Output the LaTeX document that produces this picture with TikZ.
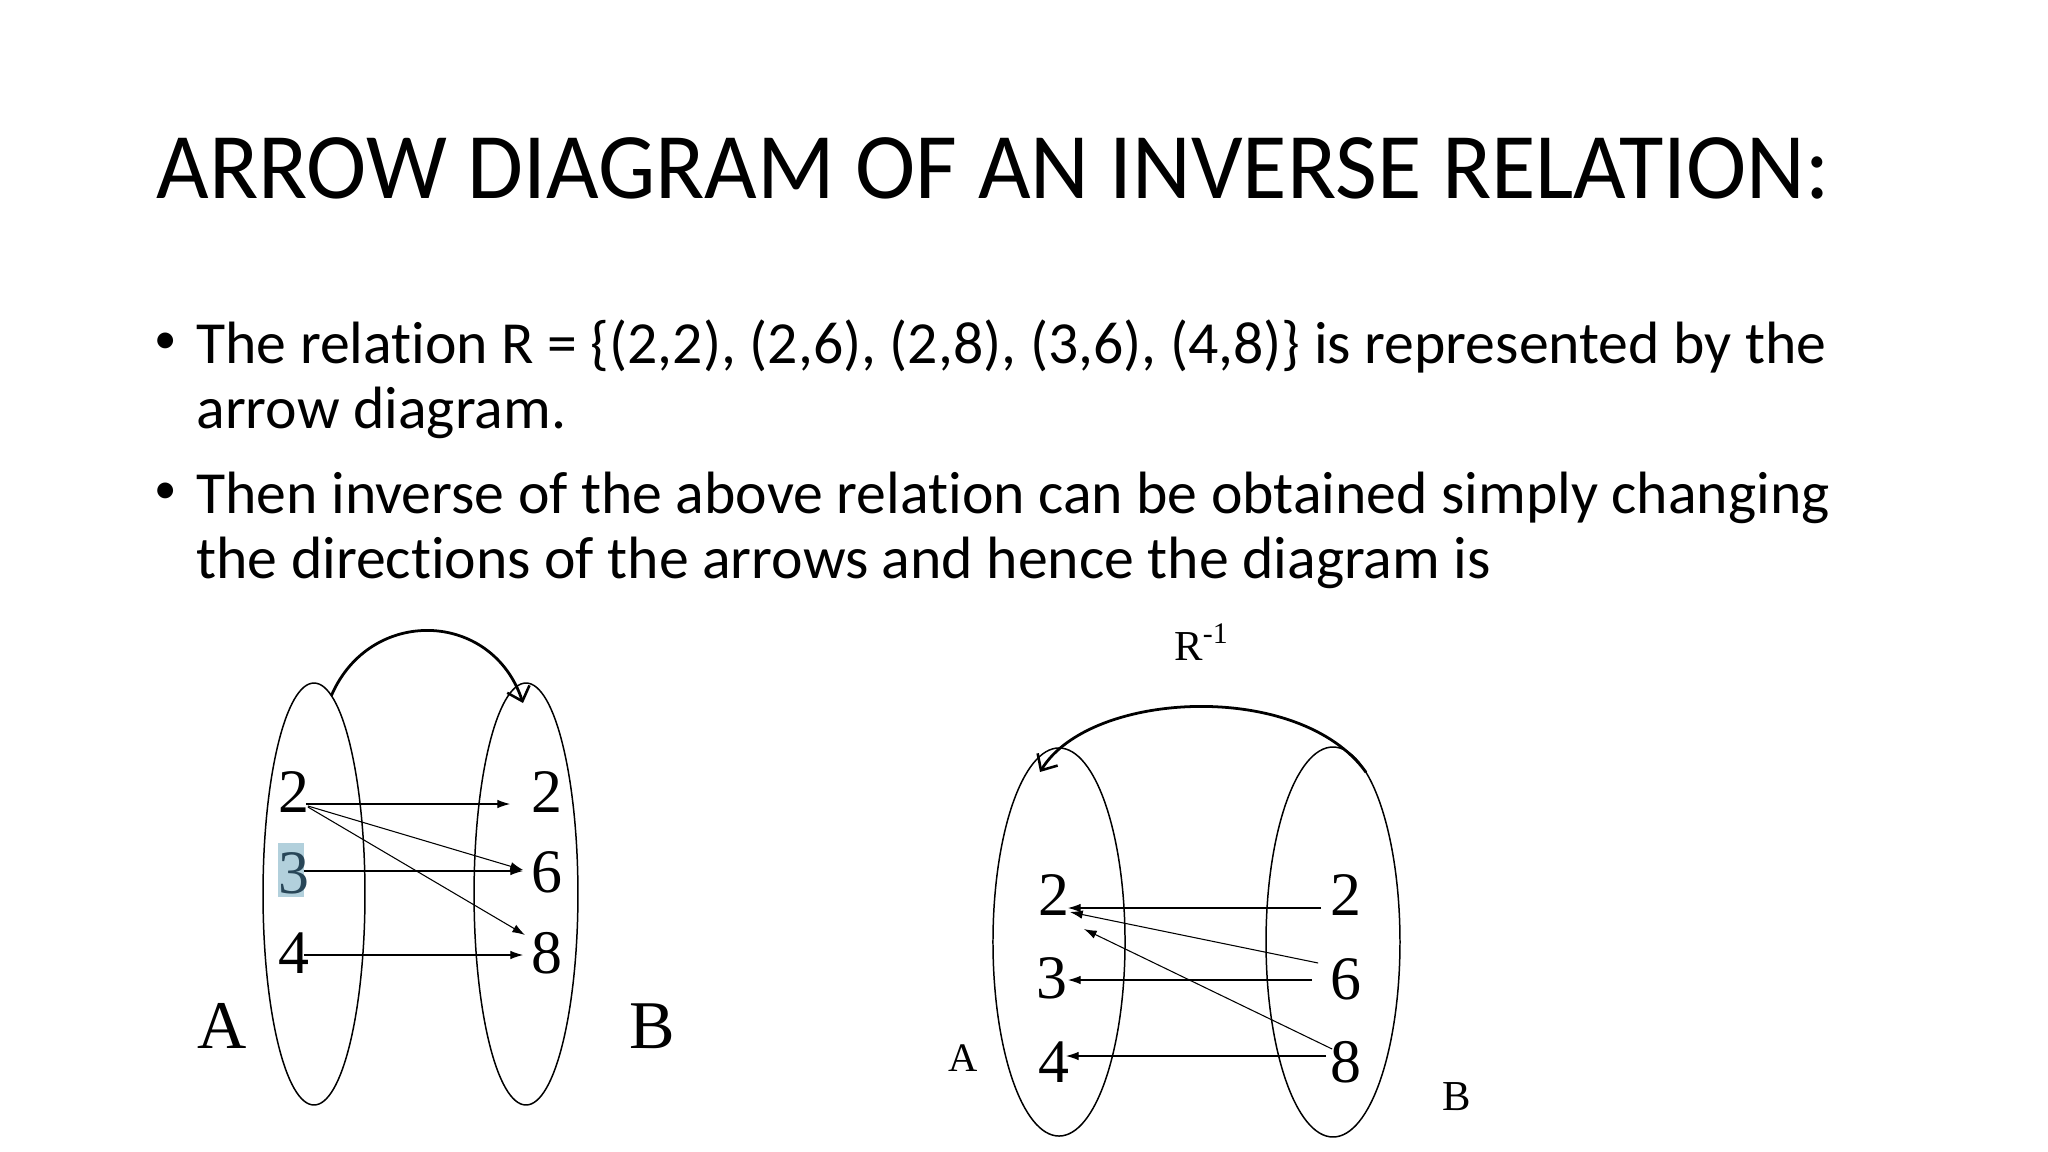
\documentclass[tikz,border=0pt]{standalone}
\usepackage{fontspec}
\setmainfont{Carlito}[Ligatures={NoCommon}]
\newfontfamily\titlefont{Carlito}[FakeStretch=0.968,Ligatures={NoCommon}]
\newfontfamily\serifdiag{Liberation Serif}
\usetikzlibrary{arrows.meta,calc,shapes.geometric}
\definecolor{hlblue}{RGB}{178,208,220}
\definecolor{hlink}{RGB}{40,70,88}
\tikzset{
  titletext/.style={anchor=base west,inner sep=0pt,font=\titlefont\fontsize{44}{50}\selectfont},
  bodytext/.style={anchor=base west,inner sep=0pt,font=\fontsize{28}{34}\selectfont},
  bulletmark/.style={anchor=center,inner sep=0pt,font=\fontsize{21}{24}\selectfont},
  digit/.style={anchor=base,inner sep=0pt,font=\serifdiag\fontsize{29}{32}\selectfont},
  setname/.style={anchor=base,inner sep=0pt,font=\serifdiag\fontsize{#1}{#1}\selectfont},
  setoval/.style={ellipse,draw,line width=0.7pt,inner sep=0pt,outer sep=0pt},
  maparrow/.style={line width=0.5pt,-{Latex[length=6pt,width=4pt]}},
  bigarrow/.style={line width=1.3pt,-{Straight Barb[length=6pt,width=11pt,line width=1.2pt]}}
}
\begin{document}
\begin{tikzpicture}[x=0.46875pt,y=-0.46875pt]
\useasboundingbox (0,0) rectangle (2048,1152);
\fill[white] (0,0) rectangle (2048,1152);

% title
\node[titletext] (title) at (156,199) {ARROW DIAGRAM OF AN INVERSE RELATION:};

% bullets
\node[bulletmark] (b1) at (166,343) {•};
\node[bodytext] (l1) at (196,363) {The relation R = \{(2,2), (2,6), (2,8), (3,6), (4,8)\} is represented by the};
\node[bodytext] (l2) at (196,428) {arrow diagram.};
\node[bulletmark] (b2) at (166,493) {•};
\node[bodytext] (l3) at (196,513) {Then inverse of the above relation can be obtained simply changing};
\node[bodytext] (l4) at (196,578) {the directions of the arrows and hence the diagram is};

% ---------- left diagram ----------
\node[setoval,minimum width=47.8pt,minimum height=197.8pt] (setA) at (314,894) {};
\node[setoval,minimum width=48.7pt,minimum height=197.8pt] (setB) at (526,894) {};
\fill[hlblue] (278,843) rectangle (304,897);
\node[digit] (la2) at (294,812) {2};
\node[digit,text=hlink] (la3) at (294,893) {3};
\node[digit] (la4) at (294,973) {4};
\node[digit] (lb2) at (547,812) {2};
\node[digit] (lb6) at (547,892) {6};
\node[digit] (lb8) at (547,973) {8};
\node[setname=32] (lA) at (222,1048) {A};
\node[setname=32] (lB) at (652,1048) {B};

\draw[maparrow] ($(la2.base east)+(-4,-8)$) -- ($(lb2.base west)+(-21,-8)$);
\draw[maparrow] ($(la2.base east)+(-2,-6)$) -- ($(lb6.base west)+(-8,-22)$);
\draw[maparrow] ($(la2.base east)+(-2,-5)$) -- ($(lb8.base west)+(-6,-38)$);
\draw[maparrow] ($(la3.base east)+(-6,-22)$) -- ($(lb6.base west)+(-8,-21)$);
\draw[maparrow] ($(la4.base east)+(-6,-18)$) -- ($(lb8.base west)+(-8,-18)$);
\draw[bigarrow] (setA.85) .. controls (370,606) and (492,610) .. ($(setB.north)+(-3,20)$);

% ---------- right diagram ----------
\node[setoval,minimum width=61.9pt,minimum height=181.9pt] (setA2) at (1059,942) {};
\node[setoval,minimum width=62.8pt,minimum height=182.8pt] (setB2) at (1333,942) {};
\node[digit] (ra2) at (1054,915) {2};
\node[digit] (ra3) at (1052,998) {3};
\node[digit] (ra4) at (1054,1082) {4};
\node[digit] (rb2) at (1346,915) {2};
\node[digit] (rb6) at (1346,999) {6};
\node[digit] (rb8) at (1346,1082) {8};
\node[setname=19] (rA) at (963,1071) {A};
\node[setname=20] (rB) at (1457,1110) {B};
\node[anchor=base west,inner sep=0pt,font=\serifdiag\fontsize{20}{20}\selectfont] (rlab) at (1174,660) {R\textsuperscript{-1}};

\draw[maparrow] ($(rb2.base west)+(-9,-7)$) -- ($(ra2.base east)+(-2,-7)$);
\draw[maparrow] ($(rb6.base west)+(-12,-36)$) -- ($(ra2.base east)+(0,-3)$);
\draw[maparrow] ($(rb6.base west)+(-18,-19)$) -- ($(ra3.base east)+(0,-18)$);
\draw[maparrow] ($(rb8.base west)+(2,-33)$) -- ($(ra2.base east)+(14,14)$);
\draw[maparrow] ($(rb8.base west)+(-4,-26)$) -- ($(ra4.base east)+(-4,-26)$);
\draw[bigarrow] (setB2.79) .. controls (1300,680) and (1090,690) .. ($(setA2.north)+(-19,24)$);
\end{tikzpicture}
\end{document}
